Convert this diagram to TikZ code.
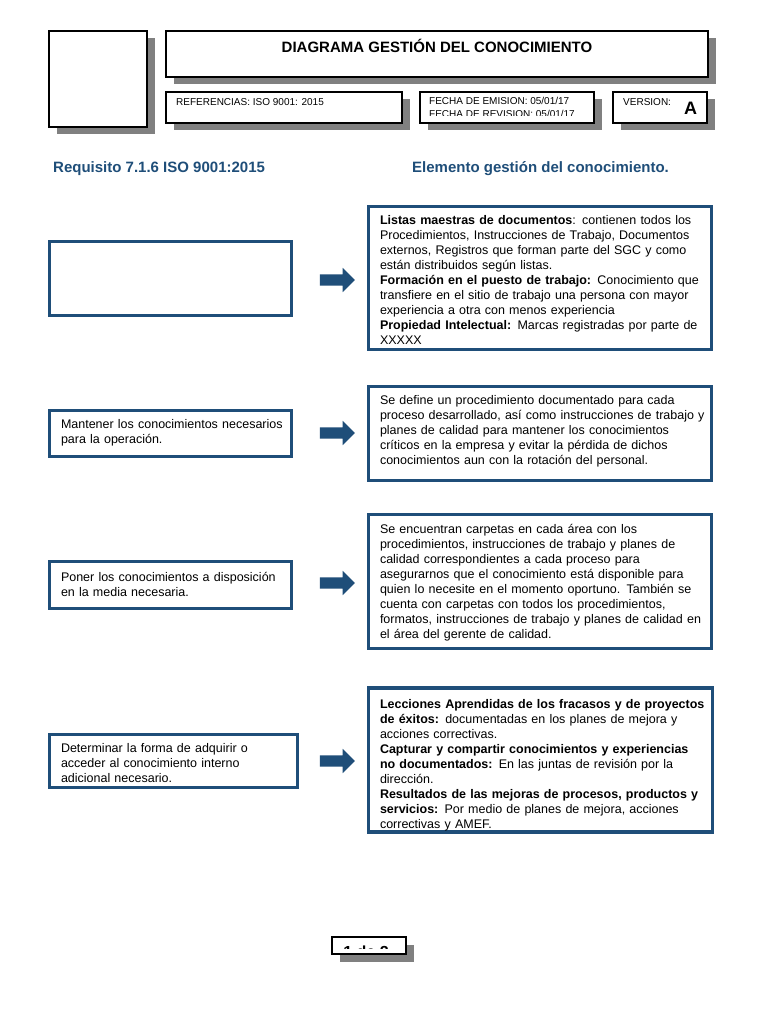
\documentclass[tikz,border=0pt]{standalone}
\usepackage{fontspec}
\setmainfont{Liberation Sans}
\usetikzlibrary{shadows,shapes.arrows,calc}
\definecolor{navy}{HTML}{1F4E79}
\definecolor{shade}{HTML}{808080}
\newcommand{\txtlines}[2][0pt]{\noindent\raisebox{#1}[\height][\depth]{\begin{tabular}[t]{@{}l@{}}#2\end{tabular}}}
\begin{document}
\begin{tikzpicture}[x=1pt,y=-1pt,
  hbox/.style={draw=black, line width=1.1pt, fill=white, rectangle, inner sep=0pt,
    drop shadow={shadow xshift=7.5pt, shadow yshift=-7.5pt, fill=shade, opacity=1}},
  bbox/.style={draw=navy, line width=3.2pt, fill=white, rectangle, inner xsep=11.5pt, inner ysep=0pt,
    align=left, font=\fontsize{12.5}{15}\selectfont},
  barrow/.style={single arrow, fill=navy, draw=none, minimum height=35pt, minimum width=24pt,
    inner sep=5.5pt, single arrow head extend=6.5pt},
  small/.style={font=\fontsize{10}{13}\selectfont, inner sep=0pt},
  headtxt/.style={font=\bfseries\fontsize{15}{17}\selectfont, text=navy, inner sep=0pt, anchor=west}
]
\useasboundingbox (0,0) rectangle (768,1024);
\fill[white] (0,0) rectangle (768,1024);

% header boxes
\node[hbox, minimum width=98pt, minimum height=96pt] (logo) at (98,79) {};
\node[hbox, minimum width=542pt, minimum height=46pt] (titlebox) at (437,54) {};
\node[hbox, minimum width=236pt, minimum height=31pt] (refbox) at (284,107.5) {};
\node[hbox, minimum width=174pt, minimum height=31pt] (fechabox) at (507,107.5) {};
\node[hbox, minimum width=94pt, minimum height=31pt] (verbox) at (660,107.5) {};

\node[font=\bfseries\fontsize{15}{17}\selectfont, inner sep=0pt] (ttl) at (437,46) {DIAGRAMA GESTIÓN DEL CONOCIMIENTO};
\node[small, anchor=west] (reft) at (176,102) {REFERENCIAS: ISO 9001: 2015};
\begin{scope}
  \clip (421,93) rectangle (593,116);
  \node[small, anchor=north west, align=left] (fecha) at (429,97.5) {FECHA DE EMISION: 05/01/17\\FECHA DE REVISION: 05/01/17};
\end{scope}
\node[small, anchor=west] (vert) at (623,102) {VERSION:};
\node[font=\bfseries\fontsize{18}{18}\selectfont, inner sep=0pt] (ver) at (690.5,108) {A};

% headings
\node[headtxt] (req) at (53,169) {Requisito 7.1.6 ISO 9001:2015};
\node[headtxt] (elem) at (412,169) {Elemento gestión del conocimiento.};

% left boxes
\node[bbox, minimum width=242pt, minimum height=74pt, text width=219pt] (l1) at (170.5,278.5) {};
\node[bbox, minimum width=242pt, minimum height=46pt, text width=219pt] (l2) at (170.5,433.5)
  {\txtlines[1pt]{Mantener los conocimientos necesarios\\para la operación.}};
\node[bbox, minimum width=242pt, minimum height=47pt, text width=219pt] (l3) at (170.5,585)
  {\txtlines[-1pt]{Poner los conocimientos a disposición\\en la media necesaria.}};
\node[bbox, minimum width=248pt, minimum height=53pt, text width=225pt] (l4) at (173.5,761)
  {\txtlines[-3.5pt]{Determinar la forma de adquirir o\\acceder al conocimiento interno\\adicional necesario.}};

% right boxes
\node[bbox, minimum width=343pt, minimum height=143pt, text width=320pt] (r1) at (540,278)
  {\txtlines[-3.5pt]{\textbf{Listas maestras de documentos}: contienen todos los\\
   Procedimientos, Instrucciones de Trabajo, Documentos\\
   externos, Registros que forman parte del SGC y como\\
   están distribuidos según listas.\\
   \textbf{Formación en el puesto de trabajo:} Conocimiento que\\
   transfiere en el sitio de trabajo una persona con mayor\\
   experiencia a otra con menos experiencia\\
   \textbf{Propiedad Intelectual:} Marcas registradas por parte de\\
   XXXXX}};
\node[bbox, minimum width=343pt, minimum height=94pt, text width=320pt] (r2) at (540,433.5)
  {\txtlines[2pt]{Se define un procedimiento documentado para cada\\
   proceso desarrollado, así como instrucciones de trabajo y\\
   planes de calidad para mantener los conocimientos\\
   críticos en la empresa y evitar la pérdida de dichos\\
   conocimientos aun con la rotación del personal.}};
\node[bbox, minimum width=343pt, minimum height=134pt, text width=320pt] (r3) at (540,581.5)
  {\txtlines[-1pt]{Se encuentran carpetas en cada área con los\\
   procedimientos, instrucciones de trabajo y planes de\\
   calidad correspondientes a cada proceso para\\
   asegurarnos que el conocimiento está disponible para\\
   quien lo necesite en el momento oportuno. También se\\
   cuenta con carpetas con todos los procedimientos,\\
   formatos, instrucciones de trabajo y planes de calidad en\\
   el área del gerente de calidad.}};
\node[bbox, minimum width=344pt, minimum height=144pt, text width=321pt] (r4) at (540.5,760)
  {\txtlines[-5pt]{\textbf{Lecciones Aprendidas de los fracasos y de proyectos}\\
   \textbf{de éxitos:} documentadas en los planes de mejora y\\
   acciones correctivas.\\
   \textbf{Capturar y compartir conocimientos y experiencias}\\
   \textbf{no documentados:} En las juntas de revisión por la\\
   dirección.\\
   \textbf{Resultados de las mejoras de procesos, productos y}\\
   \textbf{servicios:} Por medio de planes de mejora, acciones\\
   correctivas y AMEF.}};

% arrows
\node[barrow] (a1) at (334.5,280) {};
\node[barrow] (a2) at (334.5,433) {};
\node[barrow] (a3) at (334.5,583) {};
\node[barrow] (a4) at (334.5,761) {};

% page number box
\node[hbox, minimum width=74pt, minimum height=17pt] (pagebox) at (369,945.5) {};
\begin{scope}
  \clip (333,938) rectangle (405,948);
  \node[font=\bfseries\fontsize{16}{16}\selectfont, inner sep=0pt, anchor=north] (pg) at (366,945.5) {1 de 2};
\end{scope}
\end{tikzpicture}
\end{document}
